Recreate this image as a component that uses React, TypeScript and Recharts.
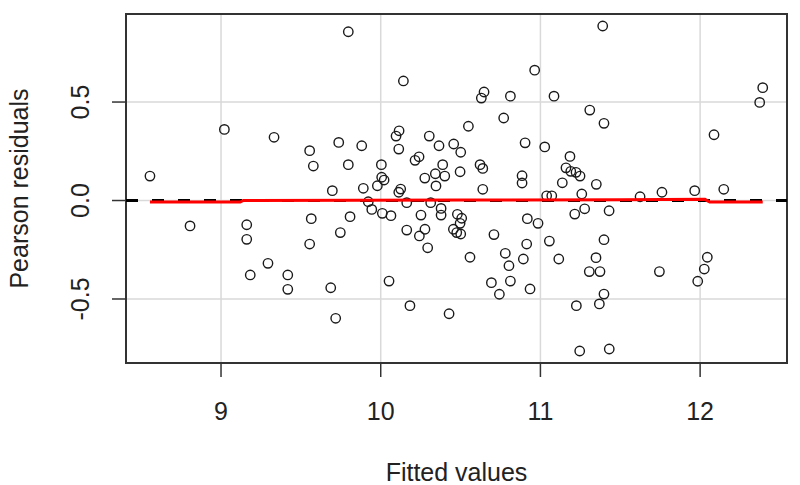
import React from 'react';
import {
  ScatterChart,
  Scatter,
  XAxis,
  YAxis,
  CartesianGrid,
  ReferenceLine,
  ReferenceArea,
} from 'recharts';

// Fitted values (x) and Pearson residuals (y)
const fitted = [
  8.555, 9.021, 9.332, 9.555, 9.578, 9.737, 9.797, 9.697, 9.797, 8.806,
  9.161, 9.161, 9.565, 9.747, 9.555, 9.294, 9.183, 9.418, 9.418, 9.687,
  9.718, 9.808, 10.142, 10.647, 10.630, 9.881, 10.549, 10.115, 10.096, 10.113,
  10.304, 10.365, 10.457, 10.501, 10.240, 10.215, 10.004, 10.006, 10.021, 9.979,
  9.891, 10.125, 10.113, 10.388, 10.342, 10.401, 10.276, 10.346, 10.497, 10.622,
  10.639, 10.639, 9.922, 9.944, 10.010, 10.064, 10.163, 10.163, 10.252, 10.277,
  10.242, 10.294, 10.313, 10.378, 10.378, 10.480, 10.507, 10.497, 10.455, 10.476,
  10.501, 10.559, 10.052, 10.183, 10.428, 10.709, 10.693, 11.390, 10.964, 10.812,
  11.085, 10.770, 11.309, 11.398, 10.904, 11.027, 11.185, 11.160, 11.190, 11.223,
  11.248, 10.885, 10.885, 11.137, 11.350, 11.039, 11.071, 11.259, 10.918, 10.985,
  11.215, 11.277, 11.430, 10.914, 11.056, 11.398, 10.780, 10.893, 10.803, 11.115,
  11.348, 11.306, 11.373, 10.812, 10.743, 10.935, 11.398, 11.369, 11.225, 11.246,
  11.431, 12.392, 12.373, 12.087, 11.624, 11.761, 11.966, 12.148, 11.745, 12.045,
  12.026, 11.985,
];
const residuals = [
  0.124, 0.361, 0.321, 0.253, 0.175, 0.295, 0.182, 0.050, 0.857, -0.129,
  -0.123, -0.197, -0.092, -0.163, -0.221, -0.319, -0.378, -0.378, -0.451, -0.443,
  -0.598, -0.082, 0.607, 0.551, 0.520, 0.278, 0.377, 0.354, 0.327, 0.261,
  0.327, 0.278, 0.287, 0.245, 0.222, 0.204, 0.182, 0.118, 0.104, 0.075,
  0.062, 0.058, 0.042, 0.182, 0.136, 0.124, 0.114, 0.074, 0.146, 0.182,
  0.163, 0.057, -0.006, -0.045, -0.065, -0.077, -0.011, -0.150, -0.074, -0.146,
  -0.180, -0.240, -0.011, -0.040, -0.074, -0.070, -0.090, -0.116, -0.146, -0.163,
  -0.170, -0.288, -0.409, -0.534, -0.575, -0.173, -0.417, 0.886, 0.662, 0.530,
  0.530, 0.419, 0.459, 0.392, 0.293, 0.272, 0.224, 0.166, 0.148, 0.143,
  0.124, 0.126, 0.089, 0.090, 0.082, 0.024, 0.024, 0.033, -0.092, -0.116,
  -0.069, -0.042, -0.052, -0.221, -0.206, -0.199, -0.268, -0.297, -0.331, -0.297,
  -0.290, -0.361, -0.361, -0.409, -0.476, -0.449, -0.475, -0.525, -0.534, -0.764,
  -0.754, 0.573, 0.498, 0.334, 0.019, 0.042, 0.050, 0.057, -0.361, -0.288,
  -0.348, -0.410,
];

// Smoother (red line)
const smoothX = [8.555, 9.12, 9.14, 10.5, 11.5, 12.03, 12.06, 12.392];
const smoothY = [-0.008, -0.008, 0.0, 0.002, 0.004, 0.006, -0.008, -0.008];

const xTicks = [9, 10, 11, 12];
const yTicks = [-0.5, 0, 0.5];
const xDomain = [8.405, 12.544];
const yDomain = [-0.825, 0.947];

const xLabel = 'Fitted values';
const yLabel = 'Pearson residuals';

const points = fitted.map((x, i) => ({ x, y: residuals[i] }));
const smooth = smoothX.map((x, i) => ({ x, y: smoothY[i] }));

const FONT = 'Liberation Sans, Arial, Helvetica, sans-serif';
const TEXT = '#222';
const FS = 25;

const XTick = (props: any) => {
  const { x, y, payload } = props;
  return (
    <text x={x} y={y + 43} textAnchor="middle" fontSize={FS} fontFamily={FONT} fill={TEXT}>
      {String(payload.value)}
    </text>
  );
};

const YTick = (props: any) => {
  const { x, y, payload } = props;
  const bx = x - 23;
  return (
    <text
      x={bx}
      y={y}
      transform={`rotate(-90 ${bx} ${y})`}
      textAnchor="middle"
      fontSize={FS}
      fontFamily={FONT}
      fill={TEXT}
    >
      {Number(payload.value).toFixed(1)}
    </text>
  );
};

const XTitle = (props: any) => {
  const vb = props.viewBox || {};
  return (
    <text
      x={vb.x + vb.width / 2}
      y={vb.y + 118}
      textAnchor="middle"
      fontSize={FS}
      fontFamily={FONT}
      fill={TEXT}
    >
      {xLabel}
    </text>
  );
};

const YTitle = (props: any) => {
  const vb = props.viewBox || {};
  const bx = vb.x + 28;
  const cy = vb.y + vb.height / 2;
  return (
    <text
      x={bx}
      y={cy}
      transform={`rotate(-90 ${bx} ${cy})`}
      textAnchor="middle"
      fontSize={FS}
      fontFamily={FONT}
      fill={TEXT}
    >
      {yLabel}
    </text>
  );
};

const OpenCircle = (props: any) => {
  const { cx, cy } = props;
  if (cx == null || cy == null) return null;
  return <circle cx={cx} cy={cy} r={4.7} fill="none" stroke="#1a1a1a" strokeWidth={1.4} />;
};

const NoShape = () => null;

export default function App() {
  return (
    <div style={{ position: 'absolute', left: 0, top: 0, background: '#fff' }}>
      <ScatterChart
        width={800}
        height={485}
        margin={{ top: 14, right: 13, bottom: 0, left: 0 }}
        style={{ overflow: 'visible' }}
      >
        <CartesianGrid stroke="#d9d9d9" strokeWidth={1.5} />
        <XAxis
          type="number"
          dataKey="x"
          domain={xDomain}
          ticks={xTicks}
          allowDataOverflow
          height={122}
          tickSize={14}
          tickMargin={0}
          axisLine={false}
          tickLine={{ stroke: '#333', strokeWidth: 1.5 }}
          tick={<XTick />}
          label={{ content: <XTitle /> }}
        />
        <YAxis
          type="number"
          dataKey="y"
          domain={yDomain}
          ticks={yTicks}
          allowDataOverflow
          width={126}
          tickSize={14}
          tickMargin={0}
          axisLine={false}
          tickLine={{ stroke: '#333', strokeWidth: 1.5 }}
          tick={<YTick />}
          label={{ content: <YTitle /> }}
        />
        <Scatter data={points} shape={<OpenCircle />} isAnimationActive={false} />
        <ReferenceLine y={0} stroke="#000" strokeWidth={3} strokeDasharray="12 14" />
        <Scatter
          data={smooth}
          shape={<NoShape />}
          line={{ stroke: '#ff0000', strokeWidth: 3 }}
          lineType="joint"
          isAnimationActive={false}
        />
        <ReferenceArea
          x1={xDomain[0]}
          x2={xDomain[1]}
          y1={yDomain[0]}
          y2={yDomain[1]}
          fill="none"
          fillOpacity={0}
          stroke="#333"
          strokeWidth={2}
          ifOverflow="visible"
        />
      </ScatterChart>
    </div>
  );
}
